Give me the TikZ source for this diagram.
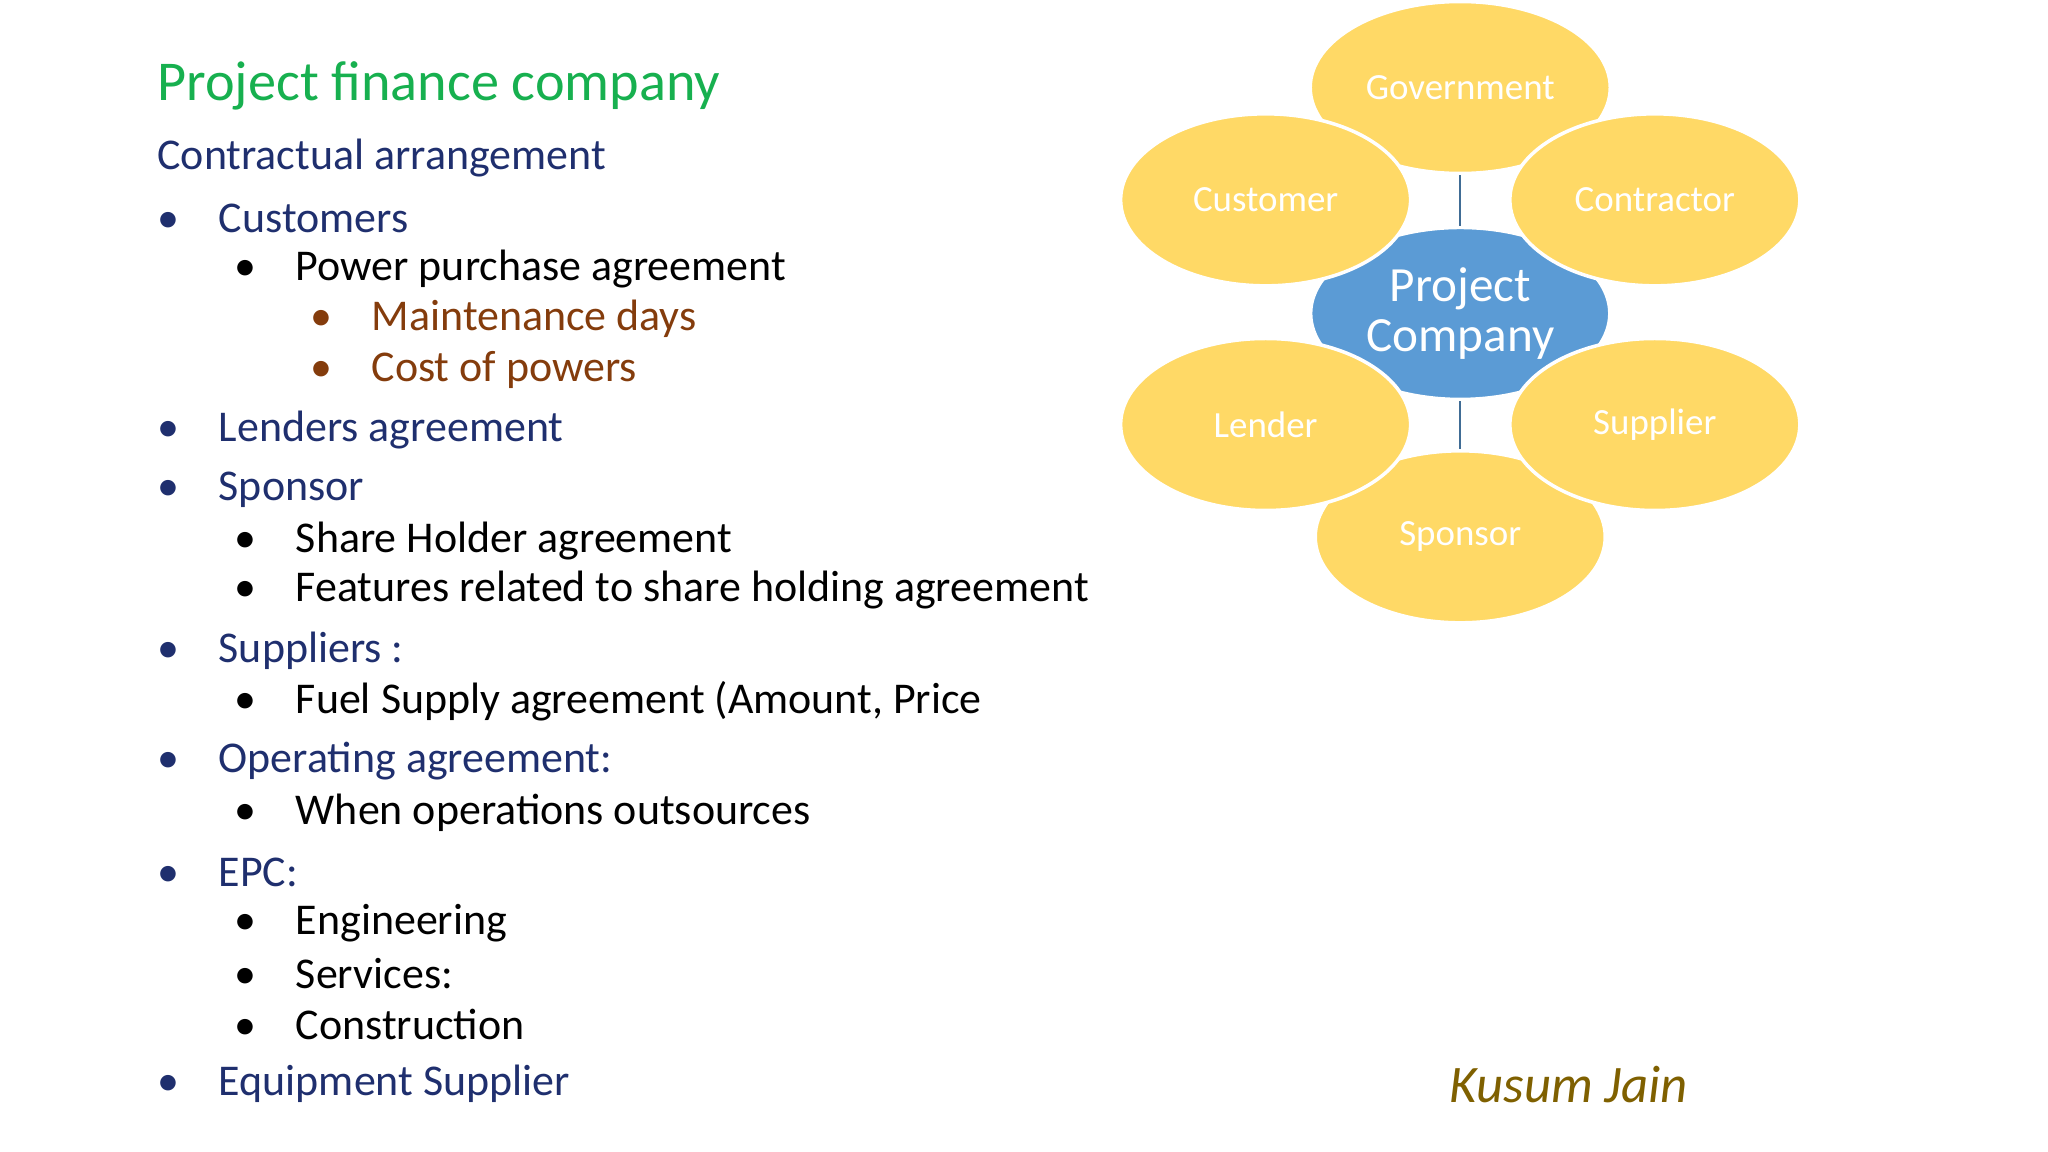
\documentclass[tikz,border=0pt]{standalone}
\usepackage{fontspec}
\setmainfont{Carlito}
\usetikzlibrary{shapes.geometric}
\definecolor{navy}{HTML}{1F2F6E}
\definecolor{brn}{HTML}{843C0C}
\definecolor{grn}{HTML}{17B04F}
\definecolor{gold}{HTML}{FFD966}
\definecolor{blu}{HTML}{5B9BD5}
\definecolor{sig}{HTML}{7F6000}
\tikzset{
 lone/.style={anchor=west,text=navy,font=\fontsize{12.5}{14}\selectfont,inner sep=0pt},
 ltwo/.style={anchor=west,text=black,font=\fontsize{12.5}{14}\selectfont,inner sep=0pt},
 lthree/.style={anchor=west,text=brn,font=\fontsize{12.5}{14}\selectfont,inner sep=0pt},
 oval/.style={ellipse,fill=gold,draw=white,line width=1pt,minimum width=2.9cm,minimum height=1.72cm,text=white,font=\fontsize{10.5}{12}\selectfont},
 coval/.style={oval,fill=blu,font=\fontsize{14}{16}\selectfont,align=center},
 link/.style={draw=blu!70!black,line width=0.6pt}
}
\begin{document}
\begin{tikzpicture}[x=0.01306cm,y=-0.01306cm]
\useasboundingbox (0,0) rectangle (1568,882);
\node[anchor=west,text=grn,font=\fontsize{16}{18}\selectfont,inner sep=0pt] (title) at (120,66) {Project finance company};
\node[lone] (ca) at (120,121) {Contractual arrangement};
\def\bl#1#2#3#4{\node[#1] (#2) at #3 {\textbullet\hspace{0.9em}#4};}
\bl{lone}{a1}{(120,167)}{Customers}
\bl{ltwo}{a2}{(179,206)}{Power purchase agreement}
\bl{lthree}{a3}{(237,244)}{Maintenance days}
\bl{lthree}{a4}{(237,283)}{Cost of powers}
\bl{lone}{a5}{(120,329)}{Lenders agreement}
\bl{lone}{a6}{(120,375)}{Sponsor}
\bl{ltwo}{a7}{(179,414)}{Share Holder agreement}
\bl{ltwo}{a8}{(179,452)}{Features related to share holding agreement}
\bl{lone}{a9}{(120,498)}{Suppliers :}
\bl{ltwo}{a10}{(179,537)}{Fuel Supply agreement (Amount, Price}
\bl{lone}{a11}{(120,583)}{Operating agreement:}
\bl{ltwo}{a12}{(179,622)}{When operations outsources}
\bl{lone}{a13}{(120,668)}{EPC:}
\bl{ltwo}{a14}{(179,707)}{Engineering}
\bl{ltwo}{a15}{(179,745)}{Services:}
\bl{ltwo}{a16}{(179,784)}{Construction}
\bl{lone}{a17}{(120,830)}{Equipment Supplier}
% diagram
\node[coval] (pc) at (1118,240) {Project\\[-2pt]Company};
\node[oval] (gov) at (1118,67) {Government};
\node[oval] (spo) at (1118,411) {Sponsor};
\draw[link] (gov) -- (pc);
\draw[link] (pc) -- (spo);
\node[oval] (cus) at (969,153) {Customer};
\node[oval] (con) at (1267,153) {Contractor};
\node[oval] (len) at (969,325) {Lender};
\node[oval] (sup) at (1267,325) {Supplier};
\node[text=sig,font=\itshape\fontsize{15}{18}\selectfont,inner sep=0pt] (sig) at (1201,830) {Kusum Jain};
\end{tikzpicture}
\end{document}
